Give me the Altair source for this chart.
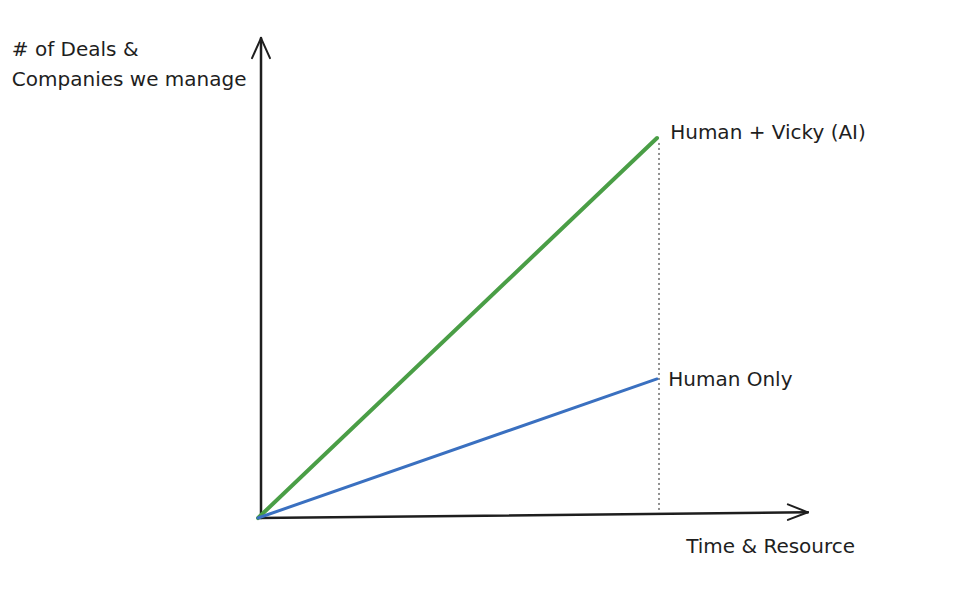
import altair as alt
import pandas as pd

# Conceptual data units
series = ["Human + Vicky (AI)", "Human Only"]
start_x = [0, 0]
start_y = [0, 0]
end_x = [10, 10]
end_y = [10, 3.66]
colors = ["#4a9e46", "#3a70c0"]
widths = [4, 3]

# axes (as arrows)
axis_x0 = [0.0, 0.075]
axis_y0 = [0.0, 0.0]
axis_x1 = [13.78, 0.075]
axis_y1 = [0.15, 12.63]

# arrowhead arms (tip -> arm end)
head_tip_x = [13.78, 13.78, 0.075, 0.075]
head_tip_y = [0.15, 0.15, 12.63, 12.63]
head_end_x = [13.28, 13.28, -0.15, 0.30]
head_end_y = [0.36, -0.05, 12.10, 12.10]

# dotted guide
guide_x = [10.05]
guide_y0 = [0.08]
guide_y1 = [9.95]

# text annotations
labels = ["Human + Vicky (AI)", "Human Only", "Time & Resource", "# of Deals &", "Companies we manage"]
label_x = [10.33, 10.28, 10.73, -6.17, -6.17]
label_y = [10.13, 3.63, -0.76, 12.32, 11.53]

xs = alt.Scale(domain=[-6.266, 17.293], nice=False, zero=False)
ys = alt.Scale(domain=[-1.763, 13.421], nice=False, zero=False)

df_lines = pd.DataFrame({"series": series, "x": start_x, "y": start_y, "x2": end_x, "y2": end_y,
                         "color": colors, "w": widths})
df_axes = pd.DataFrame({"x": axis_x0, "y": axis_y0, "x2": axis_x1, "y2": axis_y1})
df_heads = pd.DataFrame({"x": head_tip_x, "y": head_tip_y, "x2": head_end_x, "y2": head_end_y})
df_guide = pd.DataFrame({"x": guide_x, "y": guide_y0, "y2": guide_y1})
df_text = pd.DataFrame({"t": labels, "x": label_x, "y": label_y})

X = lambda f: alt.X(f, type="quantitative", scale=xs, axis=None)
Y = lambda f: alt.Y(f, type="quantitative", scale=ys, axis=None)

guide = alt.Chart(df_guide).mark_rule(color="#1e1e1e", strokeWidth=1, strokeDash=[2, 3]).encode(
    x=X("x"), y=Y("y"), y2="y2")

axes = alt.Chart(df_axes).mark_rule(color="#1e1e1e", strokeWidth=2.5, strokeCap="round").encode(
    x=X("x"), y=Y("y"), x2="x2", y2="y2")
heads = alt.Chart(df_heads).mark_rule(color="#1e1e1e", strokeWidth=2, strokeCap="round").encode(
    x=X("x"), y=Y("y"), x2="x2", y2="y2")

lines = alt.Chart(df_lines).mark_rule(strokeCap="round").encode(
    x=X("x"), y=Y("y"), x2="x2", y2="y2",
    color=alt.Color("color:N", scale=None),
    strokeWidth=alt.StrokeWidth("w:Q", scale=None))

text = alt.Chart(df_text).mark_text(align="left", baseline="middle", font="DejaVu Sans",
                                     fontSize=20, color="#1e1e1e").encode(
    x=X("x"), y=Y("y"), text="t:N")

chart = alt.layer(guide, axes, heads, lines, text).properties(
    width=940, height=577, padding=0, autosize=alt.AutoSizeParams(type="none"),
    background="white"
).configure_view(stroke=None)

chart.save("out.html", embed_options={"renderer": "svg", "actions": False})
